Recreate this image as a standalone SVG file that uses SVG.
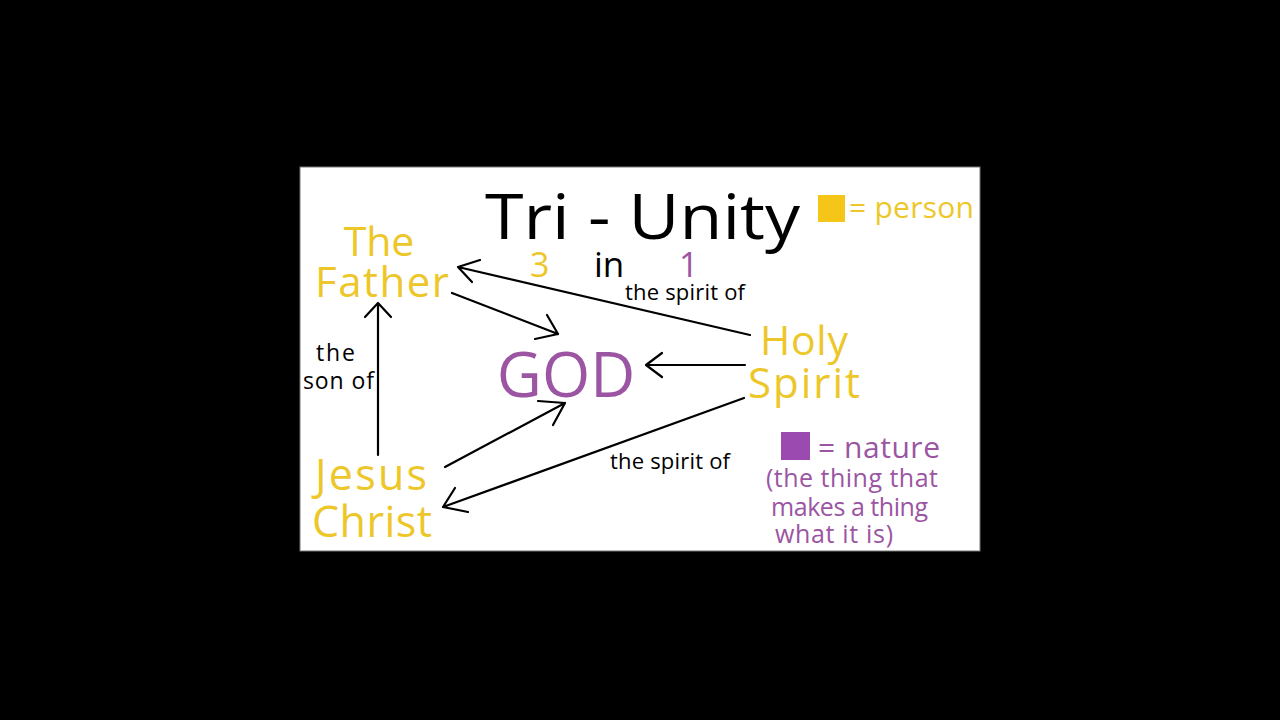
<svg xmlns="http://www.w3.org/2000/svg" width="1280" height="720" viewBox="0 0 1280 720">
<defs>
<style>
text{font-family:"Comic Sans MS","Open Sans","DejaVu Sans",sans-serif}
.y{fill:#EDC72A}
.p{fill:#9B55A3}
.k{fill:#000}
.ln{stroke:#000;stroke-width:2.2;fill:none;stroke-linecap:round;stroke-linejoin:round}
</style>
</defs>
<rect width="1280" height="720" fill="#000"/>
<rect x="300" y="167" width="680" height="384" fill="#fff" stroke="#777" stroke-width="1"/>
<g id="title">
<text x="485" y="239" class="k" font-size="62" textLength="315" lengthAdjust="spacingAndGlyphs">Tri - Unity</text>
<text x="530" y="277" class="y" font-size="34">3</text>
<text x="594" y="277" class="k" font-size="35">in</text>
<text x="679" y="277" class="p" font-size="34">1</text>
</g>
<g id="legend-person">
<rect x="818" y="195" width="27" height="27" fill="#F5C518"/>
<text x="849" y="218" class="y" font-size="30" textLength="125">= person</text>
</g>
<g id="father">
<text x="379" y="256" class="y" font-size="41" text-anchor="middle">The</text>
<text x="382" y="297" class="y" font-size="42" text-anchor="middle" textLength="134">Father</text>
</g>
<g id="god">
<text x="566" y="397" class="p" font-size="62" text-anchor="middle">GOD</text>
</g>
<g id="holy-spirit">
<text x="804" y="355" class="y" font-size="41" text-anchor="middle" textLength="88">Holy</text>
<text x="804" y="398" class="y" font-size="42" text-anchor="middle" textLength="112">Spirit</text>
</g>
<g id="jesus">
<text x="371" y="490" class="y" font-size="43" text-anchor="middle" textLength="112">Jesus</text>
<text x="372" y="537" class="y" font-size="43" text-anchor="middle" textLength="120">Christ</text>
</g>
<g id="legend-nature">
<rect x="781" y="432" width="29" height="28" fill="#9B4BB0"/>
<text x="818" y="458" class="p" font-size="30" textLength="122">= nature</text>
<text x="766" y="487" class="p" font-size="25" textLength="172">(the thing that</text>
<text x="771" y="516" class="p" font-size="25" textLength="157">makes a thing</text>
<text x="775" y="543" class="p" font-size="25" textLength="118">what it is)</text>
</g>
<g id="connectors">
<path class="ln" d="M750,335 L458,267 M480,260 L458,267 L472,282"/>
<path class="ln" d="M452,293 L558,334 M547,315 L558,334 L535,339"/>
<path class="ln" d="M745,365 L646,365 M662,353 L646,365 L662,377"/>
<path class="ln" d="M744,398 L443,507 M455,488 L443,507 L468,512"/>
<path class="ln" d="M445,467 L565,403 M538,401 L565,403 L553,425"/>
<path class="ln" d="M378,455 L378,303 M365,317 L378,303 L391,317"/>
<text x="625" y="300" class="k" font-size="22" textLength="120">the spirit of</text>
<text x="610" y="469" class="k" font-size="22" textLength="120">the spirit of</text>
<text x="316" y="361" class="k" font-size="23" textLength="39">the</text>
<text x="303" y="389" class="k" font-size="23" textLength="71">son of</text>
</g>
</svg>
